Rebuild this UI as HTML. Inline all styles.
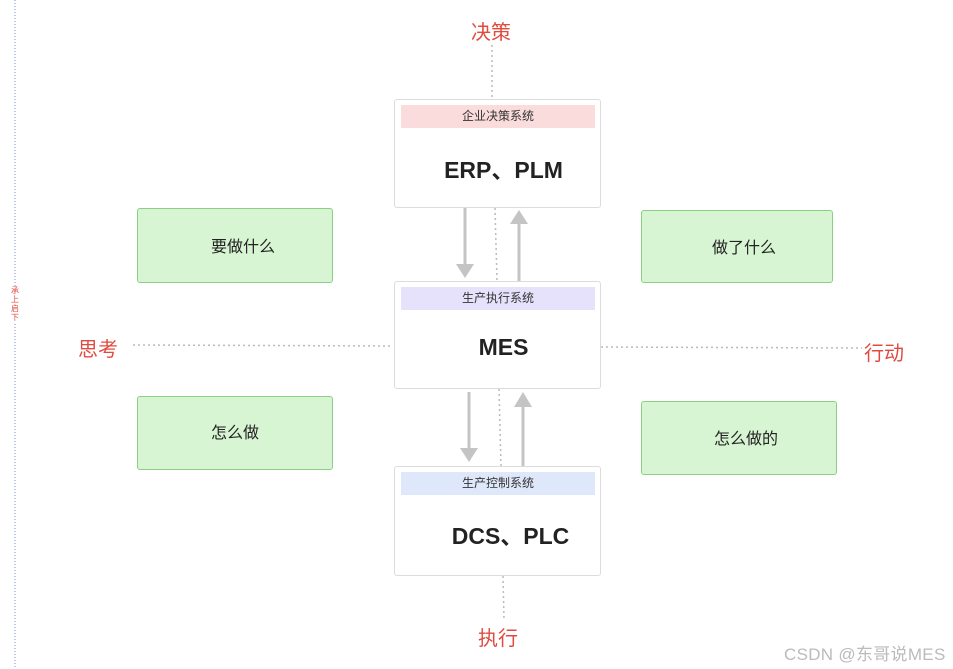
<!DOCTYPE html>
<html><head><meta charset="utf-8"><style>
html,body{margin:0;padding:0;background:#fff;}
body{width:953px;height:669px;position:relative;overflow:hidden;font-family:"Liberation Sans","Noto Sans CJK SC",sans-serif;}
.a{position:absolute;}
.box{position:absolute;background:#fff;border:1px solid #dcdcdc;border-radius:3px;box-sizing:border-box;}
.bar{position:absolute;left:6px;right:5px;top:5px;height:23px;font-size:12px;color:#333;text-align:center;line-height:23px;}
.big{position:absolute;left:0;right:0;text-align:center;font-weight:bold;font-size:23px;color:#222;}
.g{position:absolute;background:#d8f5d3;border:1px solid #8ccf84;border-radius:3px;box-sizing:border-box;font-size:16px;color:#222;text-align:center;}
.r{position:absolute;color:#e04b3f;font-size:20px;}
</style></head><body>
<svg class="a" style="left:0;top:0" width="953" height="669">
<line x1="15" y1="0" x2="15" y2="669" stroke="#7a8fd6" stroke-width="1" stroke-dasharray="1,2"/>
<g stroke="#bbb" stroke-width="1.5" stroke-dasharray="2,3" fill="none">
<line x1="492" y1="45" x2="492" y2="99"/>
<line x1="495" y1="208" x2="497" y2="281"/>
<line x1="499" y1="389" x2="501" y2="466"/>
<line x1="503" y1="576" x2="504" y2="620"/>
<line x1="133" y1="345" x2="393" y2="346"/>
<line x1="601" y1="347" x2="862" y2="348"/>
</g>
<g stroke="#c4c4c4" stroke-width="3" fill="#c4c4c4">
<line x1="465" y1="208" x2="465" y2="266"/><polygon points="456,264 474,264 465,278" stroke="none"/>
<line x1="519" y1="281" x2="519" y2="222"/><polygon points="510,224 528,224 519,210" stroke="none"/>
<line x1="469" y1="392" x2="469" y2="450"/><polygon points="460,448 478,448 469,462" stroke="none"/>
<line x1="523" y1="466" x2="523" y2="405"/><polygon points="514,407 532,407 523,392" stroke="none"/>
</g>
</svg>
<div class="a" style="left:9px;top:286px;width:12px;font-size:8px;line-height:9px;color:#e04b3f;background:#fff;text-align:center;">承上启下</div>

<div class="box" style="left:394px;top:99px;width:207px;height:109px;">
<div class="bar" style="background:#fbdcdc;">企业决策系统</div>
<div class="big" style="top:51px;padding-left:12px;">ERP、PLM</div></div>
<div class="box" style="left:394px;top:281px;width:207px;height:108px;">
<div class="bar" style="background:#e7e2fb;">生产执行系统</div>
<div class="big" style="top:52px;padding-left:12px;">MES</div></div>
<div class="box" style="left:394px;top:466px;width:207px;height:110px;">
<div class="bar" style="background:#dfe8fb;">生产控制系统</div>
<div class="big" style="top:50px;padding-left:26px;">DCS、PLC</div></div>

<div class="g" style="left:137px;top:208px;width:196px;height:75px;line-height:77px;padding-left:16px;">要做什么</div>
<div class="g" style="left:641px;top:210px;width:192px;height:73px;line-height:75px;padding-left:14px;">做了什么</div>
<div class="g" style="left:137px;top:396px;width:196px;height:74px;line-height:74px;">怎么做</div>
<div class="g" style="left:641px;top:401px;width:196px;height:74px;line-height:76px;padding-left:14px;">怎么做的</div>

<div class="r" style="left:471px;top:16px;">决策</div>
<div class="r" style="left:78px;top:333px;">思考</div>
<div class="r" style="left:864px;top:337px;">行动</div>
<div class="r" style="left:478px;top:622px;">执行</div>
<div class="a" style="left:784px;top:640px;font-size:17px;color:#bbb;letter-spacing:0.3px;">CSDN @东哥说MES</div>
</body></html>
